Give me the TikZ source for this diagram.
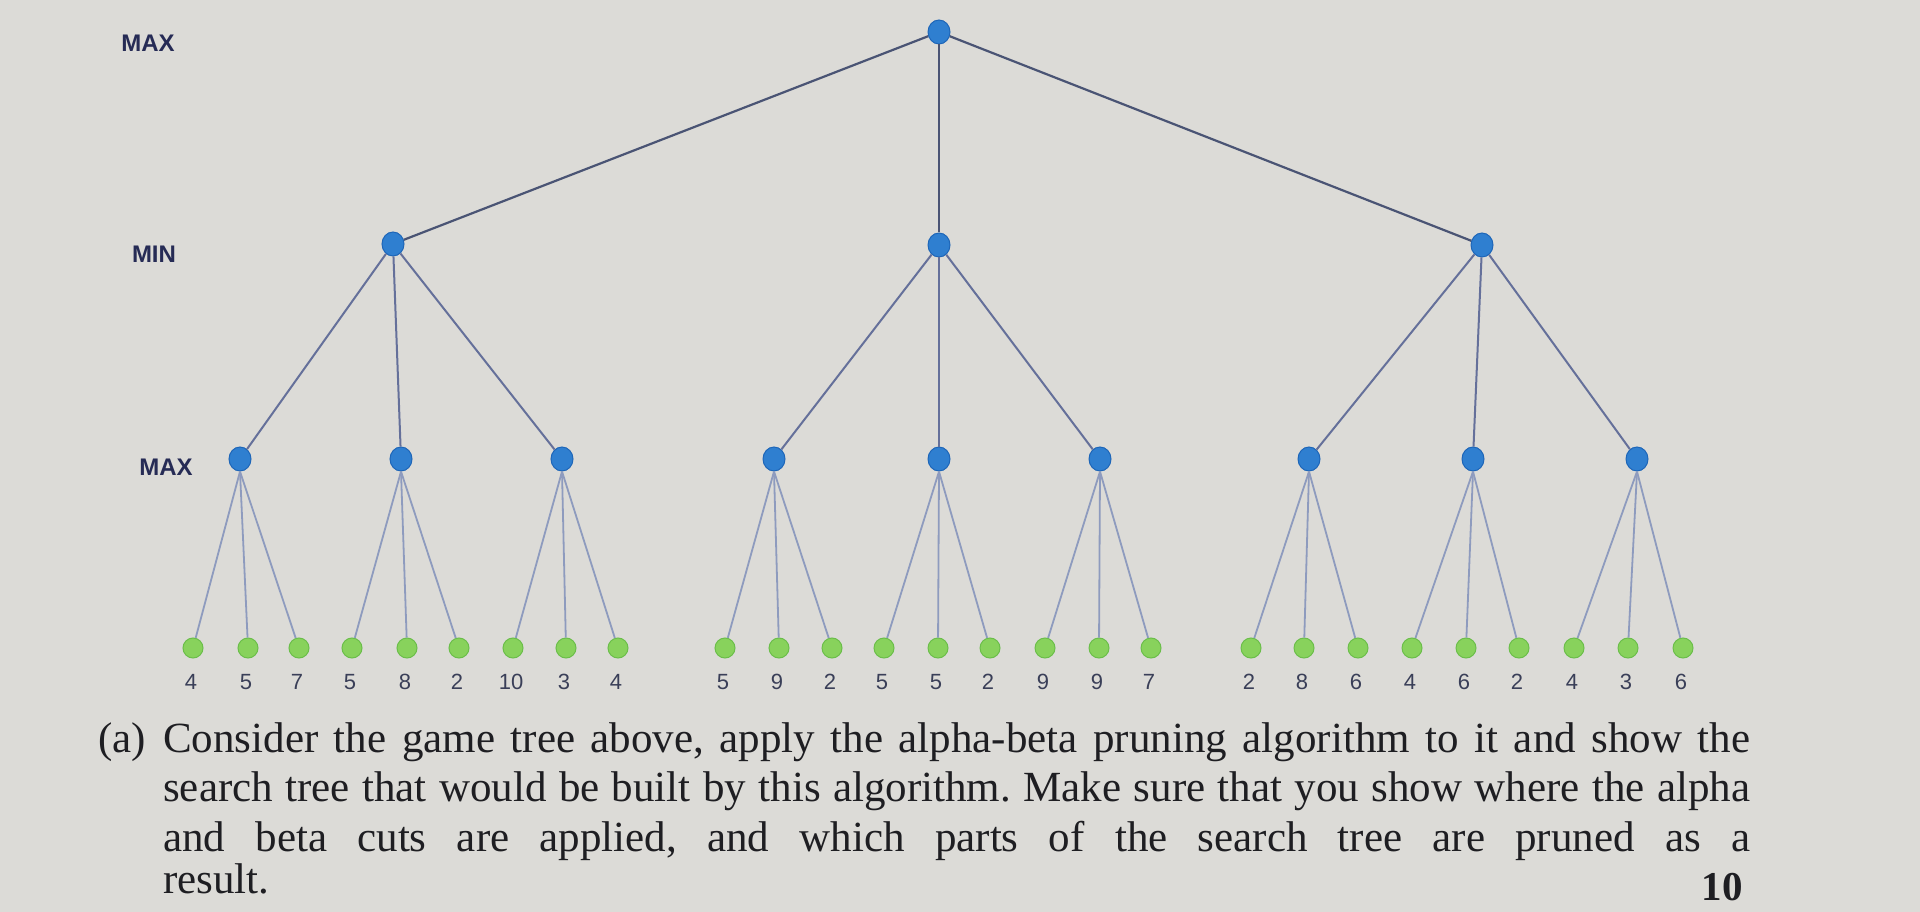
\documentclass[tikz,border=0pt]{standalone}
\usepackage{fontspec}
\setmainfont{Liberation Serif}
\setsansfont{Liberation Sans}
\usetikzlibrary{shapes.geometric}
\definecolor{bgc}{HTML}{DCDBD7}
\definecolor{bluen}{HTML}{2F7FD0}
\definecolor{bluedk}{HTML}{1E66B8}
\definecolor{leafc}{HTML}{88D25C}
\definecolor{leafdk}{HTML}{6BBE4A}
\definecolor{edgetop}{HTML}{4A5474}
\definecolor{edgemid}{HTML}{65709A}
\definecolor{edgelow}{HTML}{8E9BBE}
\definecolor{lvl}{HTML}{262B55}
\definecolor{numc}{HTML}{3A3F58}
\definecolor{txt}{HTML}{1E1E22}
\tikzset{
  inner/.style={ellipse, fill=bluen, draw=bluedk, line width=1pt, minimum width=22pt, minimum height=24pt, inner sep=0pt},
  leaf/.style={circle, fill=leafc, draw=leafdk, line width=1pt, minimum size=20pt, inner sep=0pt},
  lvlabel/.style={font=\sffamily\bfseries\fontsize{24}{24}\selectfont, text=lvl, inner sep=0pt},
  numlabel/.style={font=\sffamily\fontsize{22}{22}\selectfont, text=numc, inner sep=0pt},
  topedge/.style={draw=edgetop, line width=2.2pt},
  midedge/.style={draw=edgemid, line width=2pt},
  lowedge/.style={draw=edgelow, line width=1.8pt},
  para/.style={font=\fontsize{43}{51}\selectfont, text=txt, inner sep=0pt, anchor=base west}
}
\begin{document}
\frenchspacing
\begin{tikzpicture}[x=1pt,y=-1pt]
\fill[bgc] (0,0) rectangle (1920,912);
\useasboundingbox (0,0) rectangle (1920,912);

% level labels
\node[lvlabel] (lmax1) at (148,43) {MAX};
\node[lvlabel] (lmin) at (154,254) {MIN};
\node[lvlabel] (lmax2) at (166,467) {MAX};

% root and MIN nodes
\node[inner] (r) at (939,32) {};
\node[inner] (n1) at (393,244) {};
\node[inner] (n2) at (939,245) {};
\node[inner] (n3) at (1482,245) {};

% MAX nodes
\foreach \i/\x in {1/240,2/401,3/562,4/774,5/939,6/1100,7/1309,8/1473,9/1637}
  \node[inner] (m\i) at (\x,459) {};

% leaves and values
\foreach \i/\x/\v in {1/193/4,2/248/5,3/299/7,4/352/5,5/407/8,6/459/2,7/513/10,8/566/3,9/618/4,
  10/725/5,11/779/9,12/832/2,13/884/5,14/938/5,15/990/2,16/1045/9,17/1099/9,18/1151/7,
  19/1251/2,20/1304/8,21/1358/6,22/1412/4,23/1466/6,24/1519/2,25/1574/4,26/1628/3,27/1683/6}{
  \node[leaf] (l\i) at (\x,648) {};
  \node[numlabel] (v\i) at (\x-2,682) {\v};
}

% edges
\foreach \c in {1,2,3} \draw[topedge] (r) -- (n\c);
\foreach \c in {1,2,3} \draw[midedge] (n1) -- (m\c);
\foreach \c in {4,5,6} \draw[midedge] (n2) -- (m\c);
\foreach \c in {7,8,9} \draw[midedge] (n3) -- (m\c);
\foreach \p in {1,...,9}{
  \pgfmathtruncatemacro{\a}{3*\p-2}
  \pgfmathtruncatemacro{\b}{3*\p-1}
  \pgfmathtruncatemacro{\cc}{3*\p}
  \draw[lowedge] (m\p.south) -- (l\a);
  \draw[lowedge] (m\p.south) -- (l\b);
  \draw[lowedge] (m\p.south) -- (l\cc);
}

% question text
\node[para] (qa) at (98,752) {(a)};
\node[para] (q1) at (163,752) {\makebox[1587pt][s]{Consider the game tree above, apply the alpha-beta pruning algorithm to it and show the}};
\node[para] (q2) at (163,801) {\makebox[1587pt][s]{search tree that would be built by this algorithm. Make sure that you show where the alpha}};
\node[para] (q3) at (163,851) {\makebox[1587pt][s]{and beta cuts are applied, and which parts of the search tree are pruned as a}};
\node[para] (q4) at (163,893) {result.};
\node[para, anchor=base east, font=\bfseries\fontsize{41}{49}\selectfont] (pts) at (1743,900) {10};
\end{tikzpicture}
\end{document}
